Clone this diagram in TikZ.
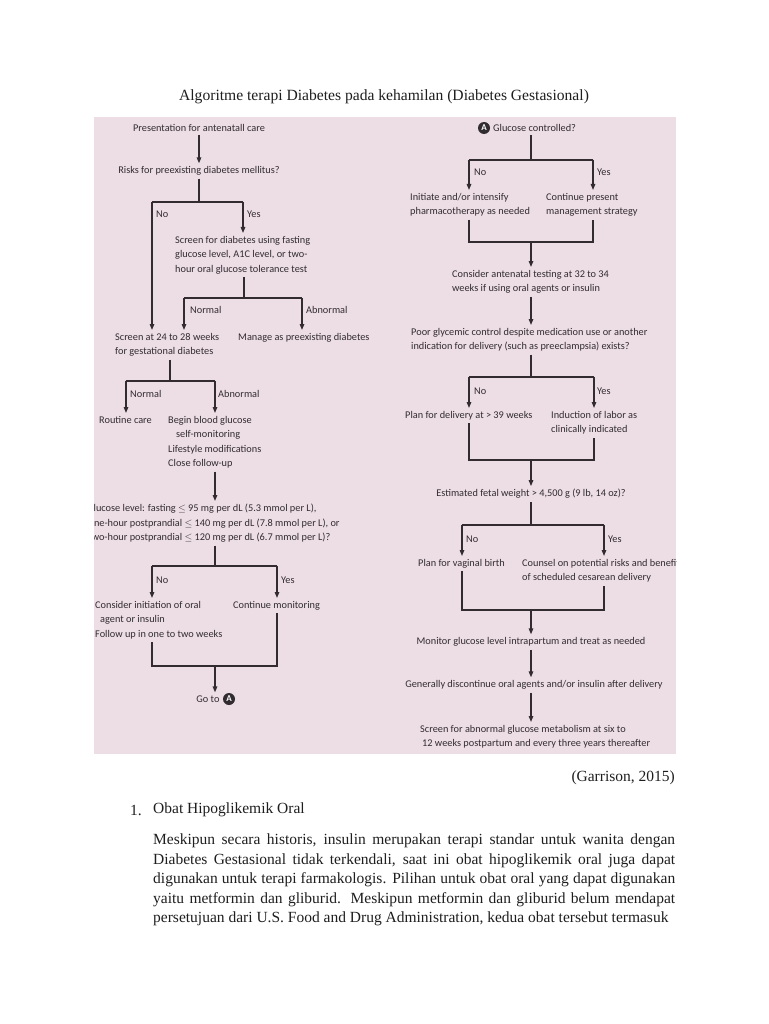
\documentclass[tikz,border=0pt]{standalone}
\usepackage{fontspec}
\setmainfont{Liberation Serif}
\newfontfamily\fcf{Carlito}
\usetikzlibrary{arrows.meta}
\definecolor{pinkbg}{RGB}{237,222,230}
\definecolor{ink}{RGB}{50,44,48}
\definecolor{body}{RGB}{30,30,30}
\begin{document}
\begin{tikzpicture}[x=1pt,y=-1pt,
  fc/.style={font=\fcf\fontsize{10.3}{14.5}\selectfont, text=ink, inner xsep=0pt, inner ysep=3pt},
  ml/.style={fc, align=left, anchor=north west},
  lab/.style={fc, anchor=west},
  ln/.style={draw=ink, line width=1.3pt},
  arr/.style={ln, -{Triangle[length=6pt,width=4.5pt]}},
  circA/.style={circle, fill=ink, text=white, inner sep=0pt, minimum size=12pt, font=\fcf\bfseries\fontsize{9}{9}\selectfont},
  serif/.style={font=\fontsize{15.5}{19.5}\selectfont, text=body, inner sep=0pt}
]
\useasboundingbox (0,0) rectangle (768,1024);
\fill[white] (0,0) rectangle (768,1024);
\node[serif, font=\fontsize{15.6}{18}\selectfont] (title) at (384,97) {Algoritme terapi Diabetes pada kehamilan (Diabetes Gestasional)};
\fill[pinkbg] (94,117) rectangle (676,754);
\begin{scope}
\clip (94,117) rectangle (676,754);
% ---------- left column ----------
\node[fc] (pres) at (199,128) {Presentation for antenatall care};
\node[fc] (risks) at (199,171) {Risks for preexisting diabetes mellitus?};
\draw[arr] (pres.south) -- (risks.north);
\coordinate (j1) at (199,202); \coordinate (j1L) at (152,202); \coordinate (j1R) at (243,202);
\node[ml] (scrdia) at (175,233) {Screen for diabetes using fasting\\glucose level, A1C level, or two-\\hour oral glucose tolerance test};
\node[ml] (s2428) at (115,330) {Screen at 24 to 28 weeks\\for gestational diabetes};
\node[ml] (manage) at (238,330) {Manage as preexisting diabetes};
\draw[ln] (risks.south) -- (j1);
\draw[ln] (j1L) -- (j1R);
\draw[arr] (j1L) -- (j1L |- s2428.north);
\draw[arr] (j1R) -- (j1R |- scrdia.north);
\node[lab] (noL1) at (156,214) {No};
\node[lab] (yesL1) at (247,214) {Yes};
\coordinate (j2) at (244,298); \coordinate (j2L) at (184,298); \coordinate (j2R) at (302,298);
\draw[ln] (j2 |- scrdia.south) -- (j2);
\draw[ln] (j2L) -- (j2R);
\draw[arr] (j2L) -- (j2L |- s2428.north);
\draw[arr] (j2R) -- (j2R |- manage.north);
\node[lab] (normL2) at (190,310) {Normal};
\node[lab] (abnL2) at (306,310) {Abnormal};
\coordinate (j3) at (170,381); \coordinate (j3L) at (126,381); \coordinate (j3R) at (215,381);
\node[ml] (routine) at (99,413) {Routine care};
\node[ml] (begin) at (168,413) {Begin blood glucose\\\hspace*{8pt}self-monitoring\\Lifestyle modifications\\Close follow-up};
\draw[ln] (j3 |- s2428.south) -- (j3);
\draw[ln] (j3L) -- (j3R);
\draw[arr] (j3L) -- (j3L |- routine.north);
\draw[arr] (j3R) -- (j3R |- begin.north);
\node[lab] (normL3) at (130,394) {Normal};
\node[lab] (abnL3) at (218,394) {Abnormal};
\node[ml] (gluc) at (87,501) {Glucose level: fasting $\le$ 95 mg per dL (5.3 mmol per L),\\One-hour postprandial $\le$ 140 mg per dL (7.8 mmol per L), or\\Two-hour postprandial $\le$ 120 mg per dL (6.7 mmol per L)?};
\draw[arr] (j3R |- begin.south) -- (j3R |- gluc.north);
\coordinate (j4) at (215,566); \coordinate (j4L) at (152,566); \coordinate (j4R) at (277,566);
\node[ml] (consid) at (95,598) {Consider initiation of oral\\\hspace*{5pt}agent or insulin\\Follow up in one to two weeks};
\node[ml] (contm) at (233,598) {Continue monitoring};
\draw[ln] (j4 |- gluc.south) -- (j4);
\draw[ln] (j4L) -- (j4R);
\draw[arr] (j4L) -- (j4L |- consid.north);
\draw[arr] (j4R) -- (j4R |- contm.north);
\node[lab] (noL4) at (156,580) {No};
\node[lab] (yesL4) at (281,580) {Yes};
\coordinate (j5) at (215,666); \coordinate (j5L) at (152,666); \coordinate (j5R) at (277,666);
\node[fc] (goto) at (208,699) {Go to};
\node[circA] (gotoA) at (229,699) {A};
\draw[ln] (j5L |- consid.south) -- (j5L) -- (j5R) -- (j5R |- contm.south);
\draw[arr] (j5) -- (j5 |- goto.north);
% ---------- right column ----------
\node[circA] (circA) at (484,128) {A};
\node[lab] (gc) at (493,128) {Glucose controlled?};
\coordinate (k1) at (531,160); \coordinate (k1L) at (469,160); \coordinate (k1R) at (593,160);
\node[ml] (init) at (410,190) {Initiate and/or intensify\\pharmacotherapy as needed};
\node[ml] (contp) at (546,190) {Continue present\\management strategy};
\draw[ln] (k1 |- gc.south) -- (k1);
\draw[ln] (k1L) -- (k1R);
\draw[arr] (k1L) -- (k1L |- init.north);
\draw[arr] (k1R) -- (k1R |- contp.north);
\node[lab] (noR1) at (474,172) {No};
\node[lab] (yesR1) at (597,172) {Yes};
\coordinate (k2) at (531,242); \coordinate (k2L) at (469,242); \coordinate (k2R) at (593,242);
\node[ml] (antt) at (452,267) {Consider antenatal testing at 32 to 34\\weeks if using oral agents or insulin};
\draw[ln] (k2L |- init.south) -- (k2L) -- (k2R) -- (k2R |- contp.south);
\draw[arr] (k2) -- (k2 |- antt.north);
\node[ml] (poor) at (411,325) {Poor glycemic control despite medication use or another\\indication for delivery (such as preeclampsia) exists?};
\draw[arr] (k2 |- antt.south) -- (k2 |- poor.north);
\coordinate (k3) at (531,377); \coordinate (k3L) at (469,377); \coordinate (k3R) at (594,377);
\node[ml] (plan39) at (405,408) {Plan for delivery at > 39 weeks};
\node[ml] (induc) at (551,408) {Induction of labor as\\clinically indicated};
\draw[ln] (k3 |- poor.south) -- (k3);
\draw[ln] (k3L) -- (k3R);
\draw[arr] (k3L) -- (k3L |- plan39.north);
\draw[arr] (k3R) -- (k3R |- induc.north);
\node[lab] (noR3) at (474,391) {No};
\node[lab] (yesR3) at (597,391) {Yes};
\coordinate (k4) at (531,460); \coordinate (k4L) at (469,460); \coordinate (k4R) at (594,460);
\node[fc] (efw) at (531,494) {Estimated fetal weight > 4,500 g (9 lb, 14 oz)?};
\draw[ln] (k4L |- plan39.south) -- (k4L) -- (k4R) -- (k4R |- induc.south);
\draw[arr] (k4) -- (k4 |- efw.north);
\coordinate (k5) at (531,525); \coordinate (k5L) at (462,525); \coordinate (k5R) at (604,525);
\node[ml] (vag) at (418,556) {Plan for vaginal birth};
\node[ml] (couns) at (522,556) {Counsel on potential risks and benefits\\of scheduled cesarean delivery};
\draw[ln] (efw.south) -- (k5);
\draw[ln] (k5L) -- (k5R);
\draw[arr] (k5L) -- (k5L |- vag.north);
\draw[arr] (k5R) -- (k5R |- couns.north);
\node[lab] (noR5) at (466,539) {No};
\node[lab] (yesR5) at (608,539) {Yes};
\coordinate (k6) at (531,610); \coordinate (k6L) at (462,610); \coordinate (k6R) at (604,610);
\node[fc] (mon) at (531,642) {Monitor glucose level intrapartum and treat as needed};
\node[fc] (gen) at (534,685) {Generally discontinue oral agents and/or insulin after delivery};
\node[ml] (scrab) at (420,722) {Screen for abnormal glucose metabolism at six to\\\hspace*{2pt}12 weeks postpartum and every three years thereafter};
\draw[ln] (k6L |- vag.south) -- (k6L) -- (k6R) -- (k6R |- couns.south);
\draw[arr] (k6) -- (k6 |- mon.north);
\draw[arr] (k6 |- mon.south) -- (k6 |- gen.north);
\draw[arr] (k6 |- gen.south) -- (k6 |- scrab.north);
\end{scope}
% ---------- text below ----------
\node[serif, anchor=east] (garr) at (675,778) {(Garrison, 2015)};
\node[serif, anchor=west] (num) at (130,810) {1.};
\node[serif, anchor=west] (head) at (153,810) {Obat Hipoglikemik Oral};
\node[serif, anchor=north west, text width=522pt, align=justify] (para) at (153,834) {\parfillskip=0pt\relax
Meskipun secara historis, insulin merupakan terapi standar untuk wanita dengan\linebreak
Diabetes Gestasional tidak terkendali, saat ini obat hipoglikemik oral juga dapat\linebreak
digunakan untuk terapi farmakologis. Pilihan untuk obat oral yang dapat digunakan\linebreak
yaitu metformin dan gliburid. Meskipun metformin dan gliburid belum mendapat\linebreak
persetujuan dari U.S. Food and Drug Administration, kedua obat tersebut termasuk};
\end{tikzpicture}
\end{document}
